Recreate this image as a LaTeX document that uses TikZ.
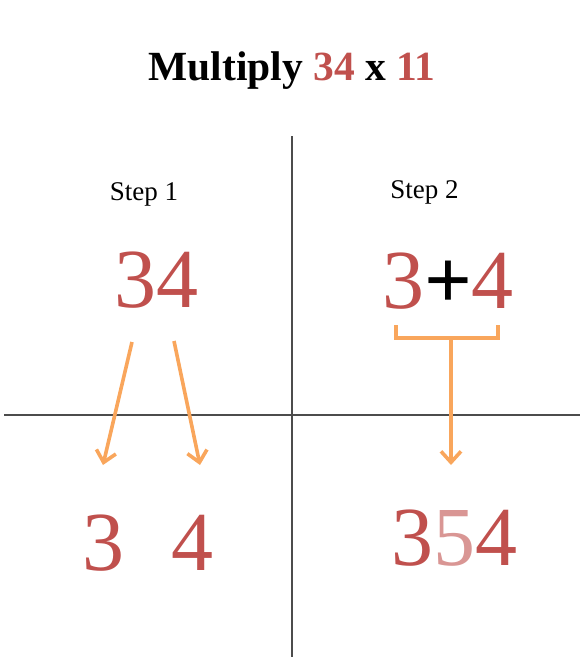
\documentclass[tikz,border=0pt]{standalone}
\usepackage{fontspec}
\setmainfont{Liberation Serif}
\usetikzlibrary{arrows.meta}
\definecolor{digitred}{HTML}{C0504D}
\definecolor{digitpink}{HTML}{D99694}
\definecolor{arroworange}{HTML}{F9A65C}
\begin{document}
\begin{tikzpicture}[x=1pt, y=-1pt,
	digit/.style={anchor=base, inner sep=0pt, text=digitred, font=\fontsize{84}{84}\selectfont},
	steplabel/.style={anchor=base, inner sep=0pt, font=\fontsize{27}{27}\selectfont},
	axis/.style={line width=1.2pt, black!70},
	pointer/.style={line width=3.6pt, arroworange, -{Straight Barb[length=11pt, width=20pt, line width=3.6pt]}},
	bracket/.style={line width=3.6pt, arroworange, line cap=rect}]
	\useasboundingbox (0,0) rectangle (584,657);

	% title
	\node[anchor=base, inner sep=0pt, font=\fontsize{41.5}{41.5}\selectfont\bfseries] (title) at (292,80)
		{Multiply \textcolor{digitred}{34} x \textcolor{digitred}{11}};

	% quadrant lines
	\coordinate (vtop) at (292,136);
	\coordinate (vbot) at (292,657);
	\coordinate (hleft) at (4,415);
	\coordinate (hright) at (580,415);
	\draw[axis] (vtop) -- (vbot);
	\draw[axis] (hleft) -- (hright);

	% step 1
	\node[steplabel] (step1) at (144,200) {Step 1};
	\node[digit] (num) at (156.5,307) {34};
	\node[digit] (tens) at (103.5,570) {3};
	\node[digit] (ones) at (192.5,570) {4};
	\coordinate (tensfrom) at (132,342);
	\coordinate (tensto) at (103,465);
	\coordinate (onesfrom) at (174,341);
	\coordinate (onesto) at (200,465);
	\draw[pointer] (tensfrom) -- (tensto);
	\draw[pointer] (onesfrom) -- (onesto);

	% step 2
	\node[steplabel] (step2) at (424.5,198) {Step 2};
	\node[digit] (sum) at (448,308) {3\textcolor{black}{\textbf{+}}4};
	\node[digit] (answer) at (454,565) {3\textcolor{digitpink}{5}4};
	\coordinate (brl) at (396,327);
	\coordinate (brr) at (498,327);
	\coordinate (brm) at (451,338);
	\coordinate (sumto) at (451,465);
	\draw[bracket] (brl) -- ++(0,11) -| (brr);
	\draw[pointer] (brm) -- (sumto);
\end{tikzpicture}
\end{document}
